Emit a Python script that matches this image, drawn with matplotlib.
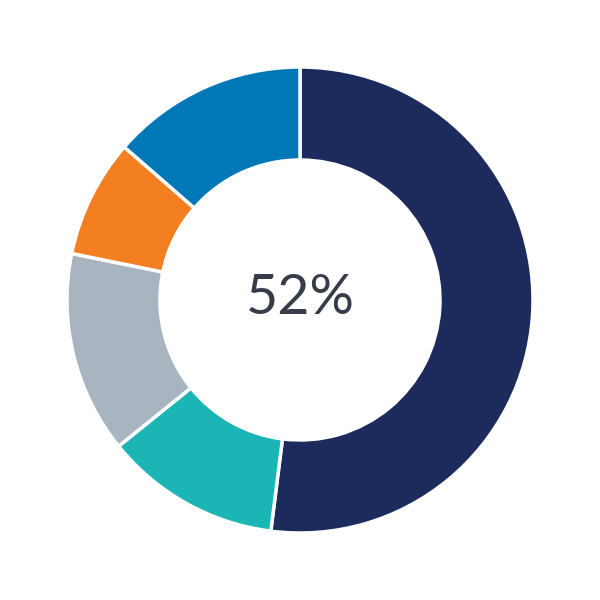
import matplotlib
matplotlib.use("Agg")
import matplotlib.pyplot as plt

# slices clockwise from 12 o'clock
labels = ["Navy", "Teal", "Grey", "Orange", "Blue"]
shares = [52, 12.2, 14, 8.2, 13.6]
colors = ["#1c2b5b", "#1cb5b6", "#a9b4c1", "#f47f20", "#0077b6"]
center_text = "52%"

fig = plt.figure(figsize=(6, 6), dpi=100)
ax = fig.add_axes([0, 0, 1, 1])
ax.set_aspect("equal")
ax.axis("off")

ax.pie(shares, colors=colors, startangle=90, counterclock=False,
       radius=233, center=(0, 0), frame=False,
       wedgeprops=dict(width=93, edgecolor="white", linewidth=2.5))
ax.set_xlim(-300, 300)
ax.set_ylim(-300, 300)

ax.text(0, 2, center_text, ha="center", va="center", fontsize=40,
        family="Lato", fontweight="normal", color="#363c4a")

fig.savefig("out.png", dpi=100, facecolor="white")
